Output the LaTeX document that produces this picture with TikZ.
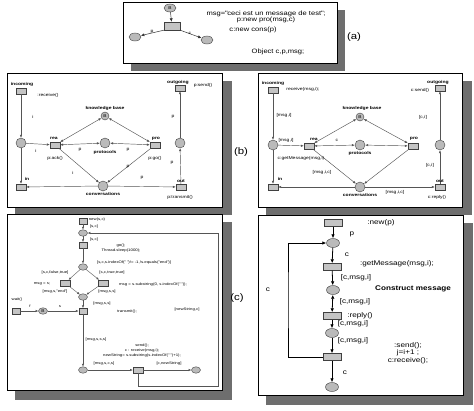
\documentclass[tikz,border=0pt]{standalone}
\usepackage{fontspec}
\setmainfont{Liberation Sans}[FakeStretch=1.2]
\usetikzlibrary{shapes.geometric,arrows.meta}
\definecolor{shad}{RGB}{110,110,110}
\definecolor{tfill}{RGB}{196,196,196}
\definecolor{pfill}{RGB}{186,186,186}
\definecolor{edgeg}{RGB}{85,85,85}
\tikzset{
  panel/.style={draw=black,line width=0.9pt,fill=white},
  shadowbox/.style={fill=shad,draw=none},
  trbase/.style={rectangle,draw=black!75,line width=0.4pt,fill=tfill,inner sep=0pt},
  plbase/.style={draw=black!75,line width=0.4pt,fill=pfill,inner sep=0pt},
  tra/.style={trbase,minimum width=16pt,minimum height=8pt},
  trb/.style={trbase,minimum width=10pt,minimum height=6pt},
  trc/.style={trbase,minimum width=8.5pt,minimum height=5.5pt},
  trcw/.style={trbase,minimum width=10pt,minimum height=6pt},
  trd/.style={trbase,minimum width=18pt,minimum height=7pt},
  pla/.style={plbase,ellipse,minimum width=12pt,minimum height=8pt},
  plb/.style={plbase,circle,minimum size=10pt},
  plc/.style={plbase,ellipse,minimum width=9pt,minimum height=6.5pt},
  pld/.style={plbase,ellipse,minimum width=13pt,minimum height=9pt},
  arra/.style={draw=black!80,line width=0.5pt,-{Latex[length=3.5pt,width=3pt]}},
  arrb/.style={draw=edgeg,line width=0.45pt,-{Latex[length=3pt,width=2.4pt]}},
  darrb/.style={draw=edgeg,line width=0.45pt,{Latex[length=3pt,width=2.4pt]}-{Latex[length=3pt,width=2.4pt]}},
  arrc/.style={draw=edgeg,line width=0.4pt,-{Latex[length=2.6pt,width=2.2pt]}},
  arrd/.style={draw=black,line width=0.8pt,-{Latex[length=4pt,width=3.5pt]}},
  darrd/.style={draw=black,line width=0.8pt,{Latex[length=4pt,width=3.5pt]}-{Latex[length=4pt,width=3.5pt]}},
  ta/.style={font=\fontsize{6.3}{6}\selectfont,inner sep=0pt,align=center},
  tb/.style={font=\fontsize{4.2}{5}\selectfont,inner sep=0pt},
  tbb/.style={font=\bfseries\fontsize{4.2}{5}\selectfont,inner sep=0pt},
  tc/.style={font=\fontsize{3.6}{5}\selectfont,inner sep=0pt,align=center},
  td/.style={font=\fontsize{6.8}{6.3}\selectfont,inner sep=0pt,align=center},
  tdb/.style={font=\bfseries\fontsize{6.8}{6.3}\selectfont,inner sep=0pt},
  plab/.style={font=\fontsize{9.5}{10}\selectfont,inner sep=0pt},
  tok/.style={font=\fontsize{4}{4}\selectfont}
}
\begin{document}
\begin{tikzpicture}[x=1pt,y=-1pt]
\useasboundingbox (0,0) rectangle (474,410);
\fill[white] (0,0) rectangle (474,410);

% ---------------- (a) ----------------
\fill[shad] (131,10) rectangle (345,71);
\draw[panel] (123,2) rectangle (337,63);
\node[pla,tok] (aB) at (170,8) {B};
\node[tra] (aT) at (172,26) {};
\node[pla] (aL) at (135,37) {};
\node[pla] (aR) at (207,40) {};
\draw[arra] (aB) -- (aT);
\draw[arra] (aT.south west) -- (aL);
\draw[arra] (aT.south east) -- (aR);
\node[tb] (aLp) at (152,32) {p};
\node[tb] (aLc) at (190,33) {c};
\node[ta] (aTx1) at (266,17) {msg=\textquotedbl ceci est un message de test\textquotedbl;\\p:new pro(msg,c)};
\node[ta] (aTx2) at (253,30) {c:new cons(p)};
\node[ta] (aTx3) at (278,52) {Object c,p,msg;};
\node[plab] (labA) at (354,37) {(a)};

% ---------------- (b) left ----------------
\fill[shad] (15,81) rectangle (232,215);
\draw[panel] (7,73) rectangle (222,207);
\node[trb] (bInc) at (21,91) {};
\node[plb] (bPl) at (21,143) {};
\node[trb] (bRea) at (55,145) {};
\node[plb,minimum size=8pt,tok] (bKb) at (105,116) {B};
\node[plb] (bProt) at (105,143) {};
\node[trb] (bPro) at (155,145) {};
\node[trb] (bOutg) at (180,88) {};
\node[plb] (bPr) at (180,143) {};
\node[trb] (bOut) at (181,187) {};
\node[trb] (bIn) at (21,187) {};
\node[plb] (bConv) at (103,186) {};
\draw[arrb] (bInc) -- (bPl);
\draw[arrb] (bPl) -- (bRea);
\draw[arrb] (bPl) -- (bIn);
\draw[darrb] (bRea) -- (bKb);
\draw[darrb] (bKb) -- (bPro);
\draw[darrb] (bRea) -- (bProt);
\draw[darrb] (bProt) -- (bPro);
\draw[arrb] (bRea) -- (bConv);
\draw[arrb] (bPro) -- (bConv);
\draw[arrb] (bConv) -- (bIn);
\draw[arrb] (bConv) -- (bOut);
\draw[arrb] (bOut) -- (bPr);
\draw[arrb] (bPr) -- (bOutg);
\node[tbb] at (22,84) {incoming};
\node[tb] at (48,95) {:receive()};
\node[tb] at (33,117) {i};
\node[tbb] at (54,138) {rea};
\node[tb] at (36,151) {i};
\node[tb] at (55,158) {p:ack()};
\node[tbb] at (105,108) {knowledge base};
\node[tb] at (80,150) {p};
\node[tbb] at (105,152) {protocols};
\node[tb] at (128,150) {p};
\node[tbb] at (156,139) {pro};
\node[tb] at (155,158) {p:go()};
\node[tbb] at (178,82) {outgoing};
\node[tb] at (203,85) {p:send()};
\node[tb] at (173,117) {p};
\node[tb] at (172,163) {p};
\node[tbb] at (181,181) {out};
\node[tb] at (180,197) {p:transmit()};
\node[tbb] at (27,179) {in};
\node[tbb] at (103,194) {conversations};
\node[tb] at (73,173) {i};
\node[tb] at (128,167) {p};
\node[tb] at (142,178) {p};
\node[plab] (labB) at (241,152) {(b)};

% ---------------- (b) right ----------------
\fill[shad] (266,81) rectangle (472,215);
\draw[panel] (258,73) rectangle (462,207);
\node[trb] (rInc) at (273,90) {};
\node[plb] (rPl) at (273,145) {};
\node[trb] (rRea) at (309,146) {};
\node[plb,minimum size=8pt,tok] (rKb) at (360,117) {B};
\node[plb] (rProt) at (360,145) {};
\node[trb] (rPro) at (413,146) {};
\node[trb] (rOutg) at (440,88) {};
\node[plb] (rPr) at (440,145) {};
\node[trb] (rOut) at (440,187) {};
\node[trb] (rIn) at (273,187) {};
\node[plb] (rConv) at (360,187) {};
\draw[arrb] (rInc) -- (rPl);
\draw[arrb] (rPl) -- (rRea);
\draw[arrb] (rPl) -- (rIn);
\draw[darrb] (rRea) -- (rKb);
\draw[darrb] (rKb) -- (rPro);
\draw[darrb] (rRea) -- (rProt);
\draw[darrb] (rProt) -- (rPro);
\draw[arrb] (rRea) -- (rConv);
\draw[arrb] (rPro) -- (rConv);
\draw[arrb] (rConv) -- (rIn);
\draw[arrb] (rConv) -- (rOut);
\draw[arrb] (rOut) -- (rPr);
\draw[arrb] (rPr) -- (rOutg);
\node[tbb] at (273,83) {incoming};
\node[tb] at (303,89) {receive(msg,i);};
\node[tb] at (284,115) {[msg,i]};
\node[tb] at (286,140) {[msg,i]};
\node[tbb] at (314,139) {rea};
\node[tb] at (337,140) {c};
\node[tb] at (301,158) {c:getMessage(msg,i)};
\node[tb] at (322,172) {[msg,i,c]};
\node[tbb] at (362,108) {knowledge base};
\node[tbb] at (360,153) {protocols};
\node[tbb] at (414,139) {pro};
\node[tbb] at (438,82) {outgoing};
\node[tb] at (420,90) {c:send()};
\node[tb] at (423,117) {[c,i]};
\node[tb] at (430,165) {[c,i]};
\node[tbb] at (440,181) {out};
\node[tb] at (437,197) {c:reply()};
\node[tbb] at (280,179) {in};
\node[tbb] at (360,195) {conversations};
\node[tb] at (395,192) {[msg,i,c]};

% ---------------- (c) left ----------------
\fill[shad] (15,222) rectangle (232,400);
\draw[panel] (7,214) rectangle (222,390);
\node[trc] (cT1) at (83,221) {};
\node[plc] (cP1) at (83,233) {};
\node[trc] (cT2) at (83,245) {};
\node[plc] (cP2) at (83,267) {};
\node[trcw] (cTL) at (65,283) {};
\node[trcw] (cTR) at (103,283) {};
\node[plc] (cP3) at (83,297) {};
\node[trc] (cT3) at (83,311) {};
\node[trc] (cTW) at (16,311) {};
\node[plc,tok] (cPB) at (43,311) {B};
\node[plc] (cP4) at (83,370) {};
\node[trcw] (cT4) at (138,370) {};
\node[plc] (cP5) at (196,370) {};
\coordinate (cc1) at (218,386);
\draw[arrc] (cT1) -- (cP1);
\draw[arrc] (cP1) -- (cT2);
\draw[arrc] (cT2) -- (cP2);
\draw[arrc] (cP2) -- (cTL);
\draw[arrc] (cP2) -- (cTR);
\draw[arrc] (cTL) -- (cP3);
\draw[arrc] (cTR) -- (cP3);
\draw[arrc] (cP3) -- (cT3);
\draw[arrc] (cTW) -- (cPB);
\draw[arrc] (cPB) -- (cT3);
\draw[arrc] (cT3) -- (cP4);
\draw[arrc] (cP4) -- (cT4);
\draw[arrc] (cT4) -- (cP5);
\draw[arrc] (cT4.south) |- (cc1) |- (cP1.east);
\node[tc] at (97,220) {new(s,c)};
\node[tc] at (94,227) {[s,c]};
\node[tc] at (94,240) {[s,c]};
\node[tc] at (121,248) {go();\\Thread.sleep(1000);};
\node[tc] at (134,263) {[s,c,s.indexOf(\textquotedbl\ \textquotedbl)!= -1,!s.equals(\textquotedbl end\textquotedbl)]};
\node[tc] at (55,273) {[s,c,false,true]};
\node[tc] at (112,273) {[s,c,true,true]};
\node[tc] at (42,284) {msg = s;};
\node[tc] at (153,285) {msg = s.substring(0, s.indexOf(\textquotedbl\ \textquotedbl));};
\node[tc] at (55,292) {[msg,s,\textquotedbl end\textquotedbl]};
\node[tc] at (107,292) {[msg,s,s]};
\node[tc] at (102,304) {[msg,s,s]};
\node[tc] at (17,300) {wait()};
\node[tc] at (30,306) {f};
\node[tc] at (60,307) {s};
\node[tc] at (127,312) {transmit();};
\node[tc] at (187,310) {[newString,c]};
\node[tc] at (96,340) {[msg,s,s,s]};
\node[tc] at (142,351) {send();\\c : receive(msg,i);\\newString= s.substring(s.indexOf(\textquotedbl\ \textquotedbl)+1);};
\node[tc] at (104,364) {[msg,s,c,s]};
\node[tc] at (169,364) {[c,newString]};
\node[plab] (labC) at (237,298) {(c)};

% ---------------- (c) right ----------------
\fill[shad] (266,223) rectangle (473,405);
\draw[panel] (258,215) rectangle (463,395);
\node[trd] (dT1) at (333,223) {};
\node[pld] (dP1) at (333,243) {};
\node[trd] (dT2) at (332,267) {};
\node[pld] (dP2) at (333,290) {};
\node[trd] (dT3) at (332,316) {};
\node[pld] (dP3) at (332,333) {};
\node[trd] (dT4) at (332,357) {};
\node[pld] (dP4) at (332,387) {};
\coordinate (dc1) at (288,300);
\draw[arrd] (dT1) -- (dP1);
\draw[arrd] (dP1) -- (dT2);
\draw[arrd] (dT2) -- (dP2);
\draw[darrd] (dP2) -- (dT3);
\draw[arrd] (dT3) -- (dP3);
\draw[arrd] (dP3) -- (dT4);
\draw[arrd] (dT4) -- (dP4);
\draw[arrd] (dT4.west) -| (dc1) |- (dP1.west);
\node[td] at (381,223) {:new(p)};
\node[td] at (352,234) {p};
\node[td] at (347,255) {c};
\node[td] at (397,264) {:getMessage(msg,i);};
\node[td] at (356,278) {[c,msg,i]};
\node[tdb] at (413,289) {Construct message};
\node[td] at (355,302) {[c,msg,i]};
\node[td] at (360,316) {:reply()};
\node[td] at (353,324) {[c,msg,i]};
\node[td] at (353,341) {[c,msg,i]};
\node[td] at (408,353) {:send();\\j=i+1 ;\\c:receive();};
\node[td] at (345,373) {c};
\node[td] at (268,290) {c};
\end{tikzpicture}
\end{document}
